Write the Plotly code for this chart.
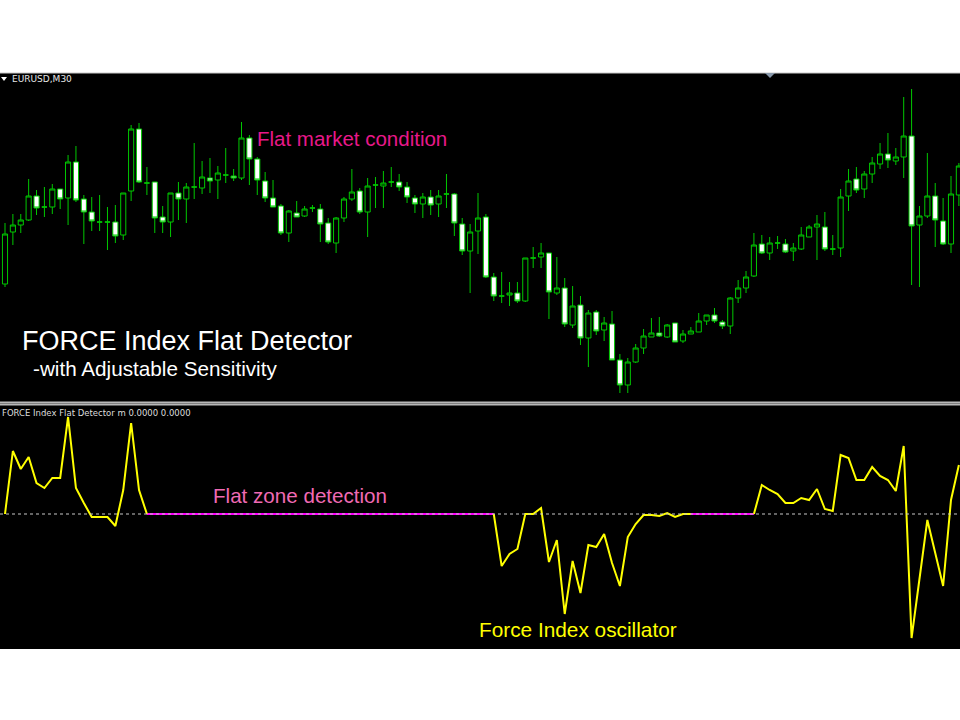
import plotly.graph_objects as go

# ---------------- data ----------------
bars = list(range(122))

open_ = [1.0966, 1.1018, 1.1025, 1.1030, 1.1054, 1.1043, 1.1043, 1.1061, 1.1052, 1.1088,
         1.1051, 1.1038, 1.1028, 1.1028, 1.1028, 1.1015, 1.1059, 1.1121, 1.1067, 1.1068,
         1.1033, 1.1028, 1.1057, 1.1051, 1.1063, 1.1062, 1.1072, 1.1070, 1.1075, 1.1074,
         1.1072, 1.1112, 1.1091, 1.1069, 1.1052, 1.1044, 1.1017, 1.1037, 1.1034, 1.1042,
         1.1041, 1.1027, 1.1007, 1.1032, 1.1051, 1.1059, 1.1038, 1.1065, 1.1064, 1.1068,
         1.1068, 1.1063, 1.1052, 1.1046, 1.1053, 1.1046, 1.1056, 1.1056, 1.1026, 1.0999,
         1.1019, 1.1033, 1.0973, 1.0954, 1.0955, 1.0957, 1.0949, 1.0992, 1.0993, 1.0997,
         1.0957, 1.0962, 1.0925, 1.0945, 1.0912, 1.0938, 1.0920, 1.0926, 1.0890, 1.0865,
         1.0888, 1.0902, 1.0913, 1.0917, 1.0913, 1.0927, 1.0909, 1.0916, 1.0918, 1.0929,
         1.0935, 1.0928, 1.0924, 1.0952, 1.0962, 1.0974, 1.1006, 1.0997, 1.1007, 1.1006,
         1.0999, 1.1001, 1.1013, 1.1023, 1.1023, 1.1001, 1.1002, 1.1054, 1.1071, 1.1061,
         1.1076, 1.1086, 1.1096, 1.1089, 1.1093, 1.1114, 1.1025, 1.1034, 1.1054, 1.1029,
         1.1006, 1.1055]

high = [1.1027, 1.1036, 1.1036, 1.1071, 1.1060, 1.1063, 1.1066, 1.1061, 1.1095, 1.1104,
        1.1055, 1.1053, 1.1055, 1.1043, 1.1045, 1.1057, 1.1125, 1.1127, 1.1083, 1.1068,
        1.1044, 1.1057, 1.1068, 1.1067, 1.1107, 1.1089, 1.1092, 1.1084, 1.1102, 1.1081,
        1.1128, 1.1115, 1.1093, 1.1078, 1.1070, 1.1046, 1.1040, 1.1049, 1.1044, 1.1045,
        1.1046, 1.1032, 1.1033, 1.1053, 1.1081, 1.1062, 1.1072, 1.1073, 1.1079, 1.1083,
        1.1076, 1.1068, 1.1055, 1.1057, 1.1060, 1.1060, 1.1076, 1.1057, 1.1032, 1.1026,
        1.1057, 1.1036, 1.0977, 1.0978, 1.0968, 1.0968, 1.0992, 1.1003, 1.1007, 1.0997,
        1.0993, 1.0972, 1.0964, 1.0954, 1.0940, 1.0940, 1.0933, 1.0939, 1.0896, 1.0892,
        1.0906, 1.0921, 1.0932, 1.0933, 1.0926, 1.0927, 1.0920, 1.0923, 1.0937, 1.0935,
        1.0942, 1.0930, 1.0953, 1.0970, 1.0979, 1.1017, 1.1015, 1.1013, 1.1014, 1.1011,
        1.1007, 1.1023, 1.1025, 1.1035, 1.1038, 1.1015, 1.1061, 1.1081, 1.1083, 1.1079,
        1.1093, 1.1107, 1.1117, 1.1102, 1.1153, 1.1161, 1.1044, 1.1097, 1.1067, 1.1052,
        1.1074, 1.1087]

low = [1.0963, 1.1005, 1.1017, 1.1029, 1.1035, 1.1033, 1.1036, 1.1041, 1.1025, 1.1048,
       1.1006, 1.1019, 1.1019, 1.1000, 1.1007, 1.1010, 1.1049, 1.1067, 1.1055, 1.1017,
       1.1017, 1.1013, 1.1030, 1.1027, 1.1051, 1.1056, 1.1057, 1.1051, 1.1067, 1.1069,
       1.1070, 1.1065, 1.1055, 1.1048, 1.1043, 1.1015, 1.1008, 1.1033, 1.1033, 1.1038,
       1.1008, 1.1006, 1.0997, 1.1028, 1.1049, 1.1036, 1.1013, 1.1042, 1.1042, 1.1063,
       1.1059, 1.1047, 1.1037, 1.1032, 1.1035, 1.1033, 1.1042, 1.1014, 1.0995, 1.0957,
       1.0996, 1.0972, 1.0949, 1.0947, 1.0944, 1.0947, 1.0948, 1.0982, 1.0982, 1.0931,
       1.0955, 1.0923, 1.0922, 1.0905, 1.0883, 1.0915, 1.0909, 1.0890, 1.0857, 1.0857,
       1.0887, 1.0896, 1.0913, 1.0913, 1.0912, 1.0908, 1.0907, 1.0916, 1.0918, 1.0925,
       1.0927, 1.0921, 1.0916, 1.0947, 1.0957, 1.0973, 1.0996, 1.0990, 1.1001, 1.0997,
       1.0989, 1.1000, 1.1013, 1.0990, 1.0999, 1.0995, 1.0993, 1.1039, 1.1057, 1.1052,
       1.1067, 1.1081, 1.1082, 1.1085, 1.1072, 1.0965, 1.0963, 1.1032, 1.1003, 1.1005,
       1.0997, 1.1044]

close = [1.1016, 1.1025, 1.1030, 1.1054, 1.1042, 1.1043, 1.1061, 1.1051, 1.1088, 1.1050,
         1.1038, 1.1029, 1.1028, 1.1028, 1.1014, 1.1057, 1.1121, 1.1068, 1.1067, 1.1032,
         1.1028, 1.1057, 1.1051, 1.1063, 1.1063, 1.1073, 1.1069, 1.1077, 1.1075, 1.1072,
         1.1112, 1.1091, 1.1070, 1.1052, 1.1043, 1.1017, 1.1039, 1.1033, 1.1041, 1.1042,
         1.1026, 1.1008, 1.1032, 1.1051, 1.1058, 1.1038, 1.1064, 1.1065, 1.1067, 1.1068,
         1.1063, 1.1053, 1.1046, 1.1053, 1.1045, 1.1054, 1.1056, 1.1027, 1.0999, 1.1018,
         1.1032, 1.0973, 1.0954, 1.0954, 1.0957, 1.0949, 1.0992, 1.0992, 1.0997, 1.0958,
         1.0962, 1.0926, 1.0944, 1.0912, 1.0937, 1.0919, 1.0927, 1.0890, 1.0865, 1.0888,
         1.0902, 1.0914, 1.0917, 1.0914, 1.0925, 1.0908, 1.0916, 1.0919, 1.0929, 1.0935,
         1.0929, 1.0924, 1.0952, 1.0962, 1.0973, 1.1005, 1.0997, 1.1007, 1.1007, 1.0998,
         1.1002, 1.1015, 1.1023, 1.1026, 1.1001, 1.1001, 1.1053, 1.1069, 1.1060, 1.1076,
         1.1087, 1.1096, 1.1090, 1.1093, 1.1114, 1.1024, 1.1034, 1.1054, 1.1030, 1.1006,
         1.1056, 1.1084]

force_index = [0.00, 0.63, 0.45, 0.57, 0.31, 0.26, 0.36, 0.36, 0.97, 0.26,
               0.11, -0.03, -0.03, -0.03, -0.12, 0.24, 0.91, 0.24, 0.00, 0.00,
               0.00, 0.00, 0.00, 0.00, 0.00, 0.00, 0.00, 0.00, 0.00, 0.00,
               0.00, 0.00, 0.00, 0.00, 0.00, 0.00, 0.00, 0.00, 0.00, 0.00,
               0.00, 0.00, 0.00, 0.00, 0.00, 0.00, 0.00, 0.00, 0.00, 0.00,
               0.00, 0.00, 0.00, 0.00, 0.00, 0.00, 0.00, 0.00, 0.00, 0.00,
               0.00, 0.00, 0.00, -0.52, -0.40, -0.35, 0.00, 0.00, 0.06, -0.48,
               -0.26, -1.00, -0.47, -0.79, -0.31, -0.33, -0.20, -0.49, -0.72, -0.23,
               -0.10, -0.01, -0.01, -0.02, 0.01, -0.03, 0.00, 0.00, 0.00, 0.00,
               0.00, 0.00, 0.00, 0.00, 0.00, 0.00, 0.29, 0.24, 0.20, 0.11,
               0.11, 0.16, 0.14, 0.25, 0.05, 0.03, 0.59, 0.56, 0.34, 0.34,
               0.47, 0.38, 0.34, 0.23, 0.68, -1.24, -0.65, -0.06, -0.39, -0.72,
               0.14, 0.49]

flat_zones = [(18, 62), (87, 95)]   # first and last bar of each flat stretch

# ---------------- helpers ----------------
W, H = 960, 720
def px(x):
    return x / W
def py(y):
    return 1 - y / H

in_flat = [any(a <= i <= b for a, b in flat_zones) for i in bars]
inner_flat = [any(a < i < b for a, b in flat_zones) for i in bars]
osc_line = [None if inner_flat[i] else force_index[i] for i in bars]
flat_line = [force_index[i] if in_flat[i] else None for i in bars]

GREEN = "#00c800"

fig = go.Figure()
fig.add_trace(go.Candlestick(
    x=bars, open=open_, high=high, low=low, close=close,
    increasing=dict(line=dict(color=GREEN, width=1), fillcolor="#000000"),
    decreasing=dict(line=dict(color=GREEN, width=1), fillcolor="#ffffff"),
    whiskerwidth=0, xaxis="x", yaxis="y", showlegend=False, hoverinfo="skip"))

fig.add_trace(go.Scatter(
    x=bars, y=flat_line, mode="lines", line=dict(color="#ff00ff", width=2),
    xaxis="x2", yaxis="y2", showlegend=False, hoverinfo="skip", connectgaps=False))
fig.add_trace(go.Scatter(
    x=bars, y=osc_line, mode="lines", line=dict(color="#ffff00", width=2),
    xaxis="x2", yaxis="y2", showlegend=False, hoverinfo="skip", connectgaps=False))

# x range so that bar 0 sits at 5px and bar 120 at 951px
step = (951 - 5) / 120
x_range = [-5 / step, (W - 5) / step]

fig.update_layout(
    width=W, height=H,
    margin=dict(l=0, r=0, t=0, b=0),
    paper_bgcolor="#ffffff", plot_bgcolor="#000000",
    xaxis=dict(domain=[0, 1], anchor="y", range=x_range, visible=False,
               rangeslider=dict(visible=False), fixedrange=True),
    yaxis=dict(domain=[py(402), py(73)], anchor="x", range=[1.0848, 1.1177],
               visible=False, fixedrange=True),
    xaxis2=dict(domain=[0, 1], anchor="y2", range=x_range, visible=False, fixedrange=True),
    yaxis2=dict(domain=[py(649), py(405)], anchor="x2", range=[-1.35, 1.09],
                visible=False, fixedrange=True),
    font=dict(family="Liberation Sans, Arial, sans-serif"),
    boxgap=0.35, boxgroupgap=0,
)

shapes = [
    # zero level of the oscillator (dotted, drawn over the flat segments)
    dict(type="line", xref="x2 domain", yref="y2", x0=0, x1=1, y0=0, y1=0,
         line=dict(color="#c8c8c8", width=1, dash="3px,3px"), layer="above"),
    # panel separator
    dict(type="rect", xref="paper", yref="paper", x0=0, x1=1, y0=py(405.5), y1=py(401.5),
         fillcolor="#b8b8b8", line=dict(width=0), layer="above"),
    dict(type="line", xref="paper", yref="paper", x0=0, x1=1, y0=py(403.5), y1=py(403.5),
         line=dict(color="#808080", width=1), layer="above"),
    # window top border
    dict(type="line", xref="paper", yref="paper", x0=0, x1=1, y0=py(73), y1=py(73),
         line=dict(color="#c8c8c8", width=1), layer="above"),
    # chart-shift marker
    dict(type="path", xref="paper", yref="paper",
         path=f"M {px(765)},{py(73)} L {px(775)},{py(73)} L {px(770)},{py(78)} Z",
         fillcolor="#8898aa", line=dict(width=0), layer="above"),
    # small menu triangle
    dict(type="path", xref="paper", yref="paper",
         path=f"M {px(1)},{py(77)} L {px(7)},{py(77)} L {px(4)},{py(81)} Z",
         fillcolor="#ffffff", line=dict(width=0), layer="above"),
]
fig.update_layout(shapes=shapes)

def label(text, x, y, size, color, family="Liberation Sans, Arial, sans-serif"):
    return dict(text=text, xref="paper", yref="paper", x=px(x), y=py(y),
                xanchor="left", yanchor="middle", showarrow=False,
                font=dict(size=size, color=color, family=family), borderpad=0)

fig.update_layout(annotations=[
    label("EURUSD,M30", 11, 79, 9, "#e6e6e6", "DejaVu Sans, sans-serif"),
    label("Flat market condition", 256, 138, 20.5, "#e8188a"),
    label("FORCE Index Flat Detector", 21, 341, 27, "#ffffff"),
    label("-with Adjustable Sensitivity", 32, 369, 20.7, "#ffffff"),
    label("FORCE Index Flat Detector m 0.0000 0.0000", 1, 413, 8.5, "#dcdcdc",
          "DejaVu Sans, sans-serif"),
    label("Flat zone detection", 212, 495, 20.6, "#f06ab4"),
    label("Force Index oscillator", 478, 629, 20.8, "#ffff00"),
])

fig.write_html("out.html", config={"displayModeBar": False, "staticPlot": True},
               post_script="document.body.style.margin='0';document.body.style.overflow='hidden';")
